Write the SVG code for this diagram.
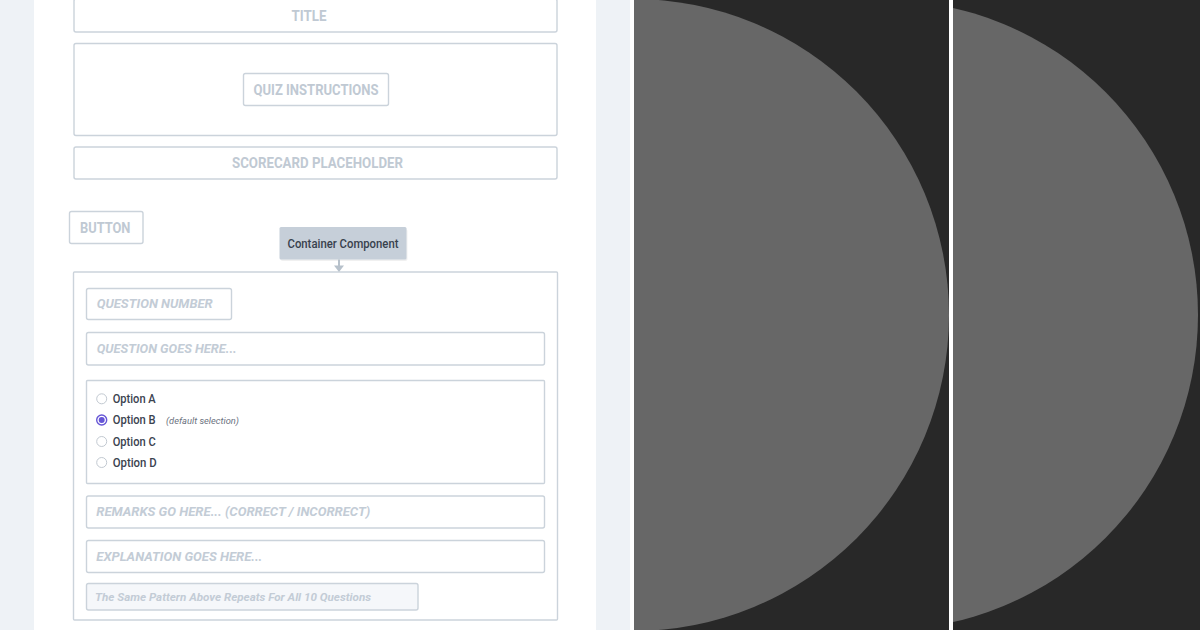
<svg xmlns="http://www.w3.org/2000/svg" width="1200" height="630" viewBox="0 0 1200 630">
  <defs>
    <style>
      .box{fill:#ffffff;stroke:#cbd3db;stroke-width:1.4}
      .lbl{font-family:Roboto,"Liberation Sans",sans-serif;font-weight:700;fill:#c0c9d3;font-size:14px}
      .ital{font-family:Roboto,"Liberation Sans",sans-serif;font-weight:700;font-style:italic;fill:#c3ccd6;font-size:13px}
      .opt{font-family:Roboto,"Liberation Sans",sans-serif;font-weight:500;font-size:12.5px;fill:#3b4350}
      .radio{fill:#ffffff;stroke:#c2c9d1;stroke-width:1}
    </style>
    <clipPath id="p1"><rect x="634" y="0" width="315" height="630"/></clipPath>
    <clipPath id="p2"><rect x="953" y="0" width="247" height="630"/></clipPath>
  </defs>

  <!-- backgrounds -->
  <rect x="0" y="0" width="630" height="630" fill="#eef2f6"/>
  <rect x="34" y="0" width="562" height="630" fill="#ffffff"/>
  <rect x="630" y="0" width="4" height="630" fill="#ffffff"/>
  <rect x="634" y="0" width="315" height="630" fill="#282828"/>
  <rect x="949" y="0" width="4" height="630" fill="#ffffff"/>
  <rect x="953" y="0" width="247" height="630" fill="#282828"/>
  <circle cx="633" cy="315" r="316" fill="#676767" clip-path="url(#p1)"/>
  <circle cx="883" cy="315" r="315" fill="#676767" clip-path="url(#p2)"/>

  <g id="title">
    <rect class="box" x="74" y="-1" width="483" height="33" rx="2"/>
    <text class="lbl" x="309" y="21" text-anchor="middle" textLength="35" lengthAdjust="spacingAndGlyphs">TITLE</text>
  </g>

  <g id="instructions-panel">
    <rect class="box" x="74" y="43.5" width="483" height="92" rx="2"/>
  </g>
  <g id="quiz-instructions">
    <rect class="box" x="243.5" y="73.5" width="145" height="32" rx="2"/>
    <text class="lbl" x="316" y="95" text-anchor="middle" textLength="125" lengthAdjust="spacingAndGlyphs">QUIZ INSTRUCTIONS</text>
  </g>

  <g id="scorecard">
    <rect class="box" x="74" y="147" width="483" height="32" rx="2"/>
    <text class="lbl" x="317.5" y="168" text-anchor="middle" textLength="171" lengthAdjust="spacingAndGlyphs">SCORECARD PLACEHOLDER</text>
  </g>

  <g id="button">
    <rect class="box" x="69.5" y="211.5" width="73.5" height="32" rx="2"/>
    <text class="lbl" x="105.2" y="232.5" text-anchor="middle" textLength="50.5" lengthAdjust="spacingAndGlyphs">BUTTON</text>
  </g>

  <g id="container">
    <rect class="box" x="73.5" y="272" width="484" height="348" rx="1"/>
  </g>

  <g id="container-label">
    <rect x="280.5" y="229" width="127" height="32" rx="2" fill="#000000" opacity="0.06"/>
    <rect x="279.5" y="227" width="127" height="32.5" rx="1.5" fill="#c6cfd9"/>
    <text x="343" y="247.7" text-anchor="middle" font-family="Roboto,'Liberation Sans',sans-serif" font-weight="500" font-size="12.5" fill="#38414d" textLength="111" lengthAdjust="spacingAndGlyphs">Container Component</text>
  </g>

  <g id="connectors">
    <line x1="339" y1="259.5" x2="339" y2="266" stroke="#b7c1cb" stroke-width="2"/>
    <path d="M334,265.5 L344,265.5 L339,272 Z" fill="#b7c1cb"/>
  </g>

  <g id="question-number">
    <rect class="box" x="86.5" y="288.5" width="145" height="31" rx="2"/>
    <text class="ital" x="96.7" y="307.7" textLength="116" lengthAdjust="spacingAndGlyphs">QUESTION NUMBER</text>
  </g>

  <g id="question">
    <rect class="box" x="86.5" y="332.5" width="458" height="32.5" rx="2"/>
    <text class="ital" x="96.7" y="352.7" textLength="140" lengthAdjust="spacingAndGlyphs">QUESTION GOES HERE...</text>
  </g>

  <g id="options">
    <rect class="box" x="86.5" y="380.5" width="458" height="103" rx="1"/>
    <circle class="radio" cx="101.7" cy="398.8" r="5"/>
    <text class="opt" x="112.7" y="402.7" textLength="43" lengthAdjust="spacingAndGlyphs">Option A</text>
    <circle cx="101.7" cy="420" r="5" fill="#ffffff" stroke="#6656d6" stroke-width="1.4"/>
    <circle cx="101.7" cy="420" r="3" fill="#6656d6"/>
    <text class="opt" x="112.7" y="424" textLength="43" lengthAdjust="spacingAndGlyphs">Option B</text>
    <text x="166" y="423.5" font-family="Roboto,'Liberation Sans',sans-serif" font-style="italic" font-size="9" fill="#6b7280" textLength="73" lengthAdjust="spacingAndGlyphs">(default selection)</text>
    <circle class="radio" cx="101.7" cy="441.5" r="5"/>
    <text class="opt" x="112.7" y="445.7" textLength="43" lengthAdjust="spacingAndGlyphs">Option C</text>
    <circle class="radio" cx="101.7" cy="462.5" r="5"/>
    <text class="opt" x="112.7" y="466.7" textLength="44" lengthAdjust="spacingAndGlyphs">Option D</text>
  </g>

  <g id="remarks">
    <rect class="box" x="86.5" y="496" width="458" height="32" rx="2"/>
    <text class="ital" x="96.3" y="516" textLength="274" lengthAdjust="spacingAndGlyphs">REMARKS GO HERE... (CORRECT / INCORRECT)</text>
  </g>

  <g id="explanation">
    <rect class="box" x="86.5" y="540.5" width="458" height="32" rx="2"/>
    <text class="ital" x="96.3" y="561" textLength="166" lengthAdjust="spacingAndGlyphs">EXPLANATION GOES HERE...</text>
  </g>

  <g id="repeat-note">
    <rect x="86.5" y="583.5" width="331.5" height="26.5" rx="2" fill="#f5f7fa" stroke="#cbd3db" stroke-width="1.4"/>
    <text x="95" y="600.7" font-family="Roboto,'Liberation Sans',sans-serif" font-weight="700" font-style="italic" font-size="10.5" fill="#c3ccd6" textLength="276" lengthAdjust="spacingAndGlyphs">The Same Pattern Above Repeats For All 10 Questions</text>
  </g>
</svg>
